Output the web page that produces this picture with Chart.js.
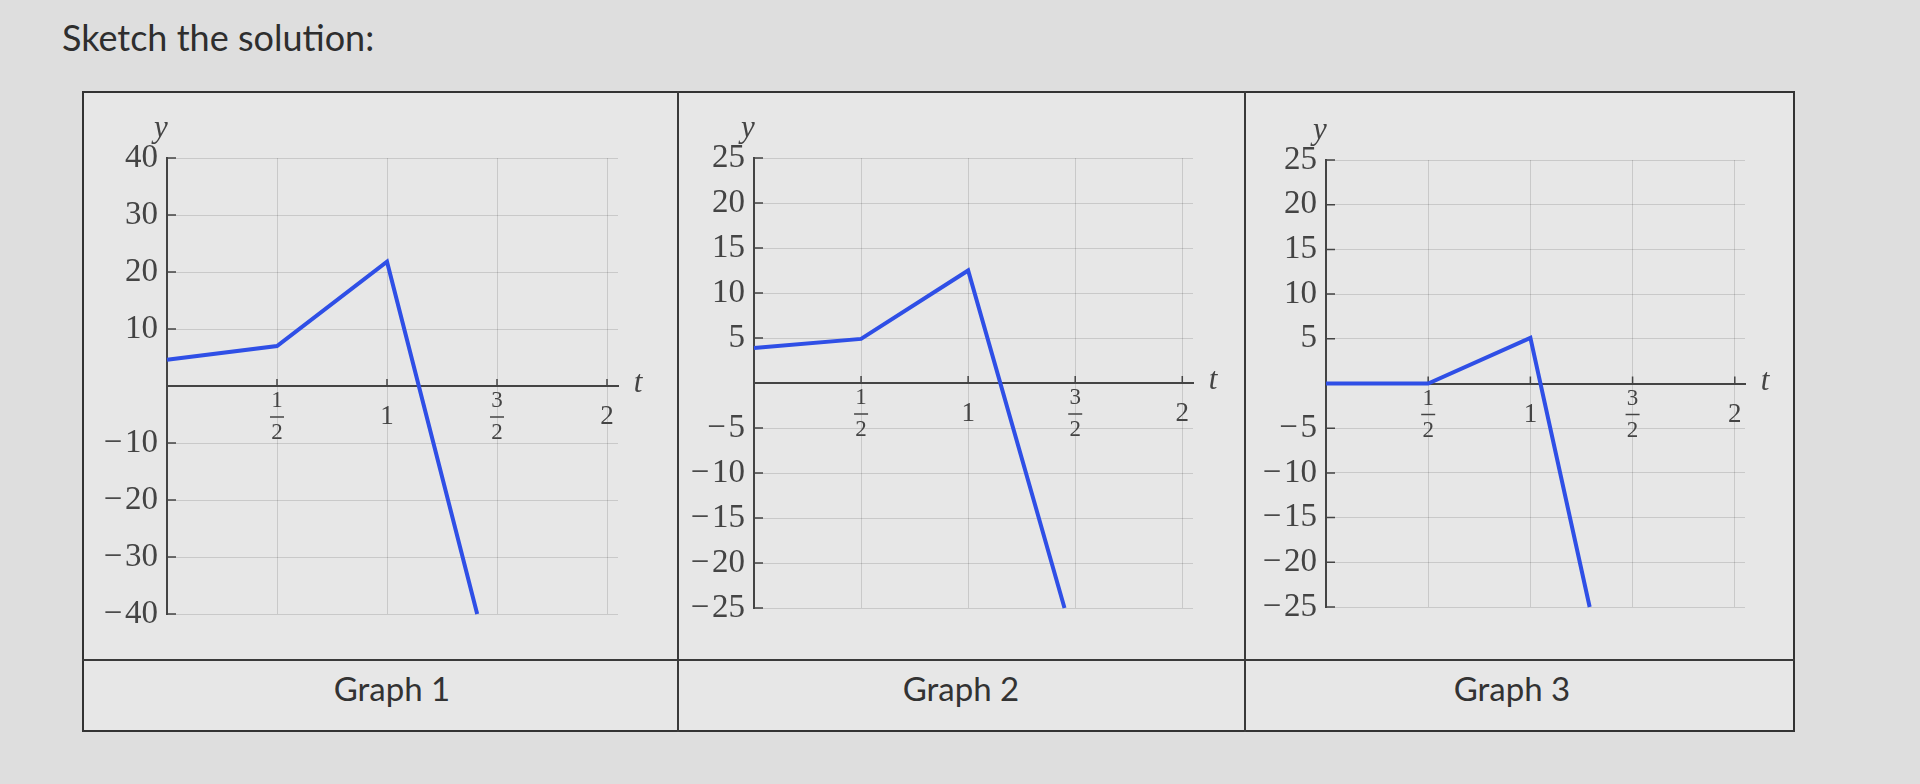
<!DOCTYPE html>
<html>
<head>
<meta charset="utf-8">
<script src="https://cdn.jsdelivr.net/npm/chart.js@4.4.1/dist/chart.umd.min.js"></script>
<style>
  html, body { margin: 0; padding: 0; }
  body { width: 1920px; height: 784px; background: #dedede; position: relative; overflow: hidden; font-family: Lato, 'Open Sans', sans-serif; }
  #title { position: absolute; left: 62px; top: 19px; font-size: 36px; line-height: 1; color: #2e2e2e; }
  #frame { position: absolute; left: 82px; top: 91px; width: 1713px; height: 641px; border: 2px solid #333; background: #e7e7e7; box-sizing: border-box; }
  .vline { position: absolute; top: 91px; height: 641px; width: 2px; background: #3a3a3a; }
  .hline { position: absolute; left: 82px; width: 1713px; top: 659px; height: 2px; background: #3a3a3a; }
  .box { position: absolute; }
  .cap { position: absolute; top: 672px; font-size: 33px; line-height: 1; color: #333; transform: translateX(-50%); white-space: nowrap; }
</style>
</head>
<body>
<div id="title">Sketch the solution:</div>
<div id="frame"></div>
<div class="vline" style="left:677px"></div>
<div class="vline" style="left:1244px"></div>
<div class="hline"></div>

<div class="box" style="left:84px;top:93px;width:593px;height:566px"><canvas id="graph1"></canvas></div>
<div class="box" style="left:679px;top:93px;width:565px;height:566px"><canvas id="graph2"></canvas></div>
<div class="box" style="left:1246px;top:93px;width:547px;height:566px"><canvas id="graph3"></canvas></div>

<div class="cap" style="left:392px">Graph 1</div>
<div class="cap" style="left:961px">Graph 2</div>
<div class="cap" style="left:1512px">Graph 3</div>

<script>
// t axis ticks (shared by all three graphs)
const xTickValues = [0.5, 1, 1.5, 2];
const xTickLabels = ['1/2', '1', '3/2', '2'];

// Graph 1
const g1T = [0, 0.5, 1, 1.41];
const g1Y = [4.6, 7, 21.8, -40];
const g1YTicks = [-40, -30, -20, -10, 0, 10, 20, 30, 40];

// Graph 2
const g2T = [0, 0.5, 1, 1.45];
const g2Y = [3.9, 4.9, 12.5, -25];
const g2YTicks = [-25, -20, -15, -10, -5, 0, 5, 10, 15, 20, 25];

// Graph 3
const g3T = [0, 0.5, 1, 1.29];
const g3Y = [0, 0, 5.1, -25];
const g3YTicks = [-25, -20, -15, -10, -5, 0, 5, 10, 15, 20, 25];

const INK = '#444';
const GRID = 'rgba(0,0,0,0.13)';
const BLUE = '#2f4fe6';

// tick marks, fraction labels and axis names
const decor = {
  id: 'decor',
  beforeDatasetsDraw(chart) {
    const { ctx, scales: { x, y } } = chart;
    const x0 = x.getPixelForValue(0), y0 = y.getPixelForValue(0);
    ctx.save();
    ctx.strokeStyle = INK;
    ctx.lineWidth = 1.5;
    ctx.beginPath();
    y.ticks.forEach(t => {
      if (t.value === 0) return;
      const py = y.getPixelForValue(t.value);
      ctx.moveTo(x0, py); ctx.lineTo(x0 + 9, py);
    });
    xTickValues.forEach(v => {
      const px = x.getPixelForValue(v);
      ctx.moveTo(px, y0); ctx.lineTo(px, y0 - 7);
    });
    ctx.stroke();
    ctx.restore();
  },
  afterDraw(chart) {
    const { ctx, chartArea, scales: { x, y } } = chart;
    const x0 = x.getPixelForValue(0), y0 = y.getPixelForValue(0);
    ctx.save();
    ctx.fillStyle = INK;
    ctx.strokeStyle = INK;
    ctx.textAlign = 'center';
    ctx.textBaseline = 'middle';
    xTickValues.forEach((v, i) => {
      const px = x.getPixelForValue(v);
      const parts = xTickLabels[i].split('/');
      if (parts.length === 2) {
        ctx.font = '23px "Liberation Serif"';
        ctx.fillText(parts[0], px, y0 + 15);
        ctx.fillText(parts[1], px, y0 + 47);
        ctx.lineWidth = 1.5;
        ctx.beginPath();
        ctx.moveTo(px - 7, y0 + 31); ctx.lineTo(px + 7, y0 + 31);
        ctx.stroke();
      } else {
        ctx.font = '27px "Liberation Serif"';
        ctx.fillText(parts[0], px, y0 + 31);
      }
    });
    ctx.font = 'italic 31px "Liberation Serif"';
    ctx.fillText('y', x0 - 6, chartArea.top - 29);
    ctx.fillText('t', chartArea.right + 20, y0 - 2);
    ctx.restore();
  }
};

function drawGraph(id, ts, ys, yTicks, pad) {
  const lim = yTicks[yTicks.length - 1];
  new Chart(document.getElementById(id), {
    type: 'scatter',
    data: {
      datasets: [{
        data: ts.map((t, i) => ({ x: t, y: ys[i] })),
        showLine: true,
        borderColor: BLUE,
        borderWidth: 4,
        pointRadius: 0,
        tension: 0,
        clip: false
      }]
    },
    options: {
      responsive: true,
      maintainAspectRatio: false,
      animation: false,
      layout: { padding: pad },
      scales: {
        x: {
          type: 'linear',
          position: { y: 0 },
          min: 0,
          max: 2.05,
          afterBuildTicks: s => { s.ticks = xTickValues.map(v => ({ value: v })); },
          ticks: { display: false },
          grid: { color: GRID, drawTicks: false },
          border: { color: INK, width: 2 }
        },
        y: {
          type: 'linear',
          position: 'left',
          min: -lim,
          max: lim,
          afterFit: s => { s.width = 70; },
          afterBuildTicks: s => { s.ticks = yTicks.map(v => ({ value: v })); },
          ticks: {
            padding: 9,
            color: INK,
            font: { family: 'Liberation Serif', size: 33 },
            callback: v => v === 0 ? '' : (v < 0 ? '\u2212\u200a' : '') + Math.abs(v)
          },
          grid: { color: GRID, drawTicks: false },
          border: { color: INK, width: 2 }
        }
      },
      plugins: {
        legend: { display: false },
        tooltip: { enabled: false }
      }
    },
    plugins: [decor]
  });
}

drawGraph('graph1', g1T, g1Y, g1YTicks, { left: 13, top: 65, right: 59, bottom: 45 });
drawGraph('graph2', g2T, g2Y, g2YTicks, { left: 5, top: 65, right: 51, bottom: 51 });
drawGraph('graph3', g3T, g3Y, g3YTicks, { left: 10, top: 67, right: 48, bottom: 52 });
</script>
</body>
</html>
